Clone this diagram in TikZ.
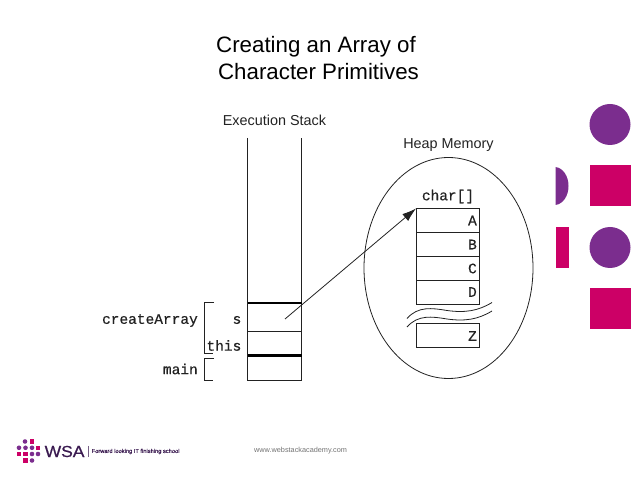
\documentclass[tikz,border=0pt]{standalone}
\usepackage{fontspec}
\setmainfont{Liberation Sans}
\setmonofont[FakeBold=0.5,BoldFont={Liberation Mono},BoldFeatures={FakeBold=0.5}]{Liberation Mono}
\newfontfamily\wsafont[FakeBold=0.8]{Liberation Sans}
\newfontfamily\tagfont[FakeBold=0.25]{Liberation Sans}
\usetikzlibrary{arrows.meta}
\definecolor{wsapurple}{HTML}{7B2D8E}
\definecolor{wsapink}{HTML}{CC0066}
\definecolor{wsadark}{HTML}{3A1A50}
\definecolor{inkc}{HTML}{222222}
\tikzset{
  x=1pt,y=-1pt,
  thinl/.style={draw=inkc,line width=0.8pt},
  thickl/.style={draw=black,line width=2.2pt},
  mono/.style={font=\ttfamily\fontsize{14.5}{16}\selectfont,text=inkc,inner sep=0pt},
  sans/.style={font=\fontsize{14.4}{16}\selectfont,text=inkc,inner sep=0pt},
  title/.style={font=\fontsize{22.3}{25}\selectfont,text=black,inner sep=0pt},
  cellbox/.style={draw=inkc,line width=0.9pt,minimum width=63pt,minimum height=24pt,inner sep=0pt,outer sep=0pt},
  pdot/.style={circle,fill=wsapurple,inner sep=0pt,minimum size=4.6pt},
  rdot/.style={rectangle,fill=wsapink,inner sep=0pt,minimum size=4.4pt},
  bigc/.style={circle,fill=wsapurple,inner sep=0pt,minimum size=41pt},
  bigs/.style={rectangle,fill=wsapink,inner sep=0pt,minimum size=41pt}
}
\begin{document}
\begin{tikzpicture}
\useasboundingbox (0,0) rectangle (638,478);
% title
\node[title] (t1) at (316,47) {Creating an Array of};
\node[title] (t2) at (318.5,72) {Character Primitives};
% decorations
\node[bigc] (c1) at (610,124.5) {};
\node[bigs] (s1) at (610,186) {};
\node[bigc] (c2) at (610,247.5) {};
\node[bigs] (s2) at (610,309) {};
\fill[wsapurple] (555.5,167) .. controls (563,168) and (568.5,176) .. (568.5,186) .. controls (568.5,196) and (563,204) .. (555.5,205) -- cycle;
\fill[wsapink] (555.5,227.5) rectangle (568.5,268);
% stack
\coordinate (stl) at (247.5,138);
\coordinate (str) at (301.5,138);
\coordinate (sbl) at (247.5,380.5);
\coordinate (sbr) at (301.5,380.5);
\draw[thinl] (stl) -- (sbl) -- (sbr) -- (str);
\coordinate (l1) at (247.5,303); \coordinate (r1) at (301.5,303);
\coordinate (l2) at (247.5,331); \coordinate (r2) at (301.5,331);
\coordinate (l3) at (247.5,355.5); \coordinate (r3) at (301.5,355.5);
\draw[thickl] (l1) -- (r1);
\draw[thinl] (l2) -- (r2);
\draw[thickl] (l3) -- (r3);
\node[sans] (es) at (274.5,120) {Execution Stack};
\node[sans] (hm) at (448.5,145) {Heap Memory};
% labels
\node[mono,anchor=east] (ca) at (198,320.5) {createArray};
\node[mono,anchor=east] (ms) at (241.5,320) {s};
\node[mono,anchor=east] (mt) at (241.5,345.5) {this};
\node[mono,anchor=east] (mm) at (198,369) {main};
\draw[thinl] (214,302.5) -- (204,302.5) -- (204,353.5) -- (213,353.5);
\draw[thinl] (214,358.5) -- (204.5,358.5) -- (204.5,380) -- (213,380);
% heap
\draw[thinl] (448.5,268) ellipse[x radius=84.5,y radius=110.5];
\node[mono] (ch) at (448,196.5) {char[]};
\node[cellbox] (a) at (447.5,220.5) {};
\node[cellbox] (b) at (447.5,244.2) {};
\node[cellbox] (c) at (447.5,268) {};
\node[cellbox] (d) at (447.5,292) {};
\node[cellbox] (z) at (447.5,335.5) {};
\node[mono,anchor=east] at (477,220.5) {A};
\node[mono,anchor=east] at (477,244.5) {B};
\node[mono,anchor=east] at (477,268.5) {C};
\node[mono,anchor=east] at (477,292) {D};
\node[mono,anchor=east] at (477,336) {Z};
\draw[thinl] (407,318.5) .. controls (418,306) and (432,308) .. (447,310.5) .. controls (465,313) and (478,311) .. (492,302.5);
\draw[thinl] (407,327) .. controls (418,314.5) and (432,316.5) .. (447,319) .. controls (465,321.5) and (478,319.5) .. (492,311);
% arrow
\coordinate (as) at (285,319);
\draw[draw=inkc,line width=0.8pt,-{Latex[length=14pt,width=9pt]}] (as) -- (a.north west);
% footer logo
\node[pdot] (d1) at (25,441.5) {};
\node[rdot] (d2) at (32,441.5) {};
\node[pdot] (d3) at (19,447.8) {};
\node[pdot] (d4) at (25.5,447.8) {};
\node[pdot] (d5) at (32,447.8) {};
\node[rdot] (d6) at (38,447.8) {};
\node[rdot] (d7) at (19,454) {};
\node[rdot] (d8) at (25.5,454) {};
\node[pdot] (d9) at (32,454) {};
\node[pdot] (d10) at (38,454) {};
\node[rdot] (d11) at (25.5,460.5) {};
\node[pdot] (d12) at (32,460.5) {};
\node[font=\wsafont\fontsize{16}{18}\selectfont,text=wsadark,inner sep=0pt,anchor=west,xscale=1.09] (wsa) at (44.5,451.5) {WSA};
\draw[draw=wsadark!70,line width=0.4pt] (88,446) -- (88,457);
\node[font=\tagfont\fontsize{5.7}{6}\selectfont,text=wsadark,inner sep=0pt,anchor=west] (tag) at (91.5,451.5) {Forward looking IT finishing school};
\node[font=\fontsize{7.3}{8}\selectfont,text=black!55,inner sep=0pt,anchor=west] (www) at (254,450.5) {www.webstackacademy.com};
\end{tikzpicture}
\end{document}
